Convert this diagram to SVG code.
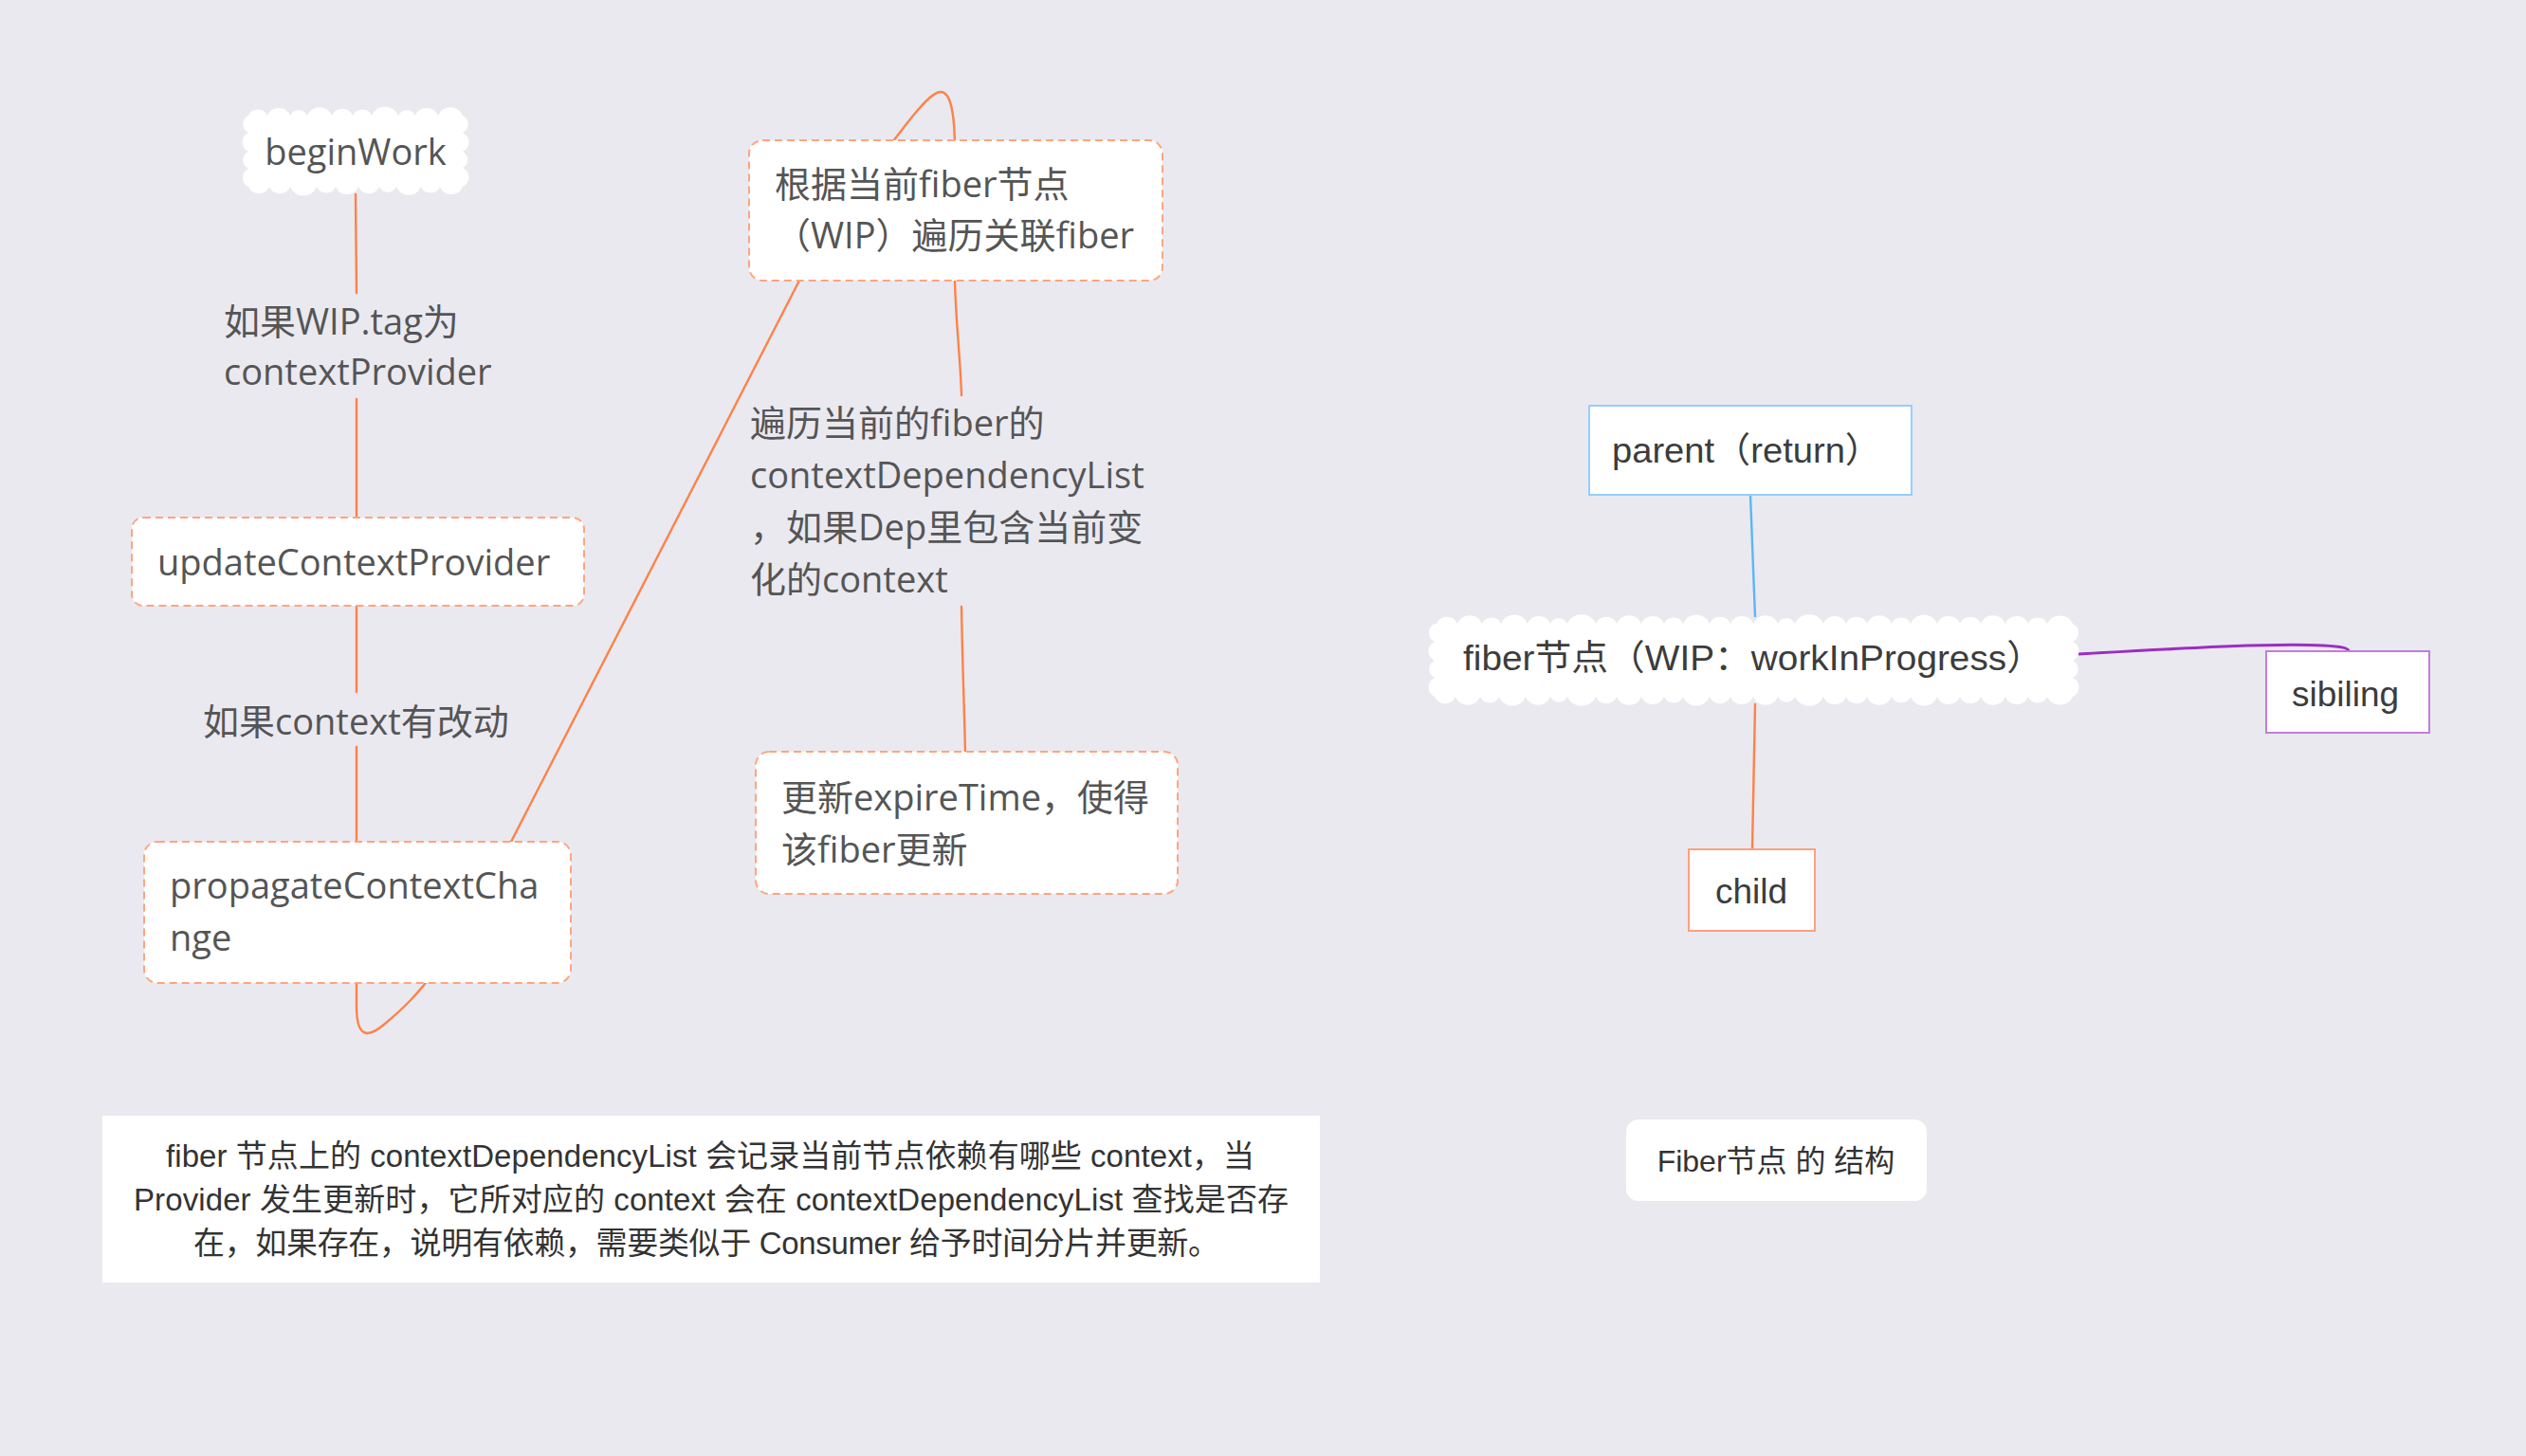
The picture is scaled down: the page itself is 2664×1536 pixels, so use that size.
<svg xmlns="http://www.w3.org/2000/svg" width="2664" height="1536" viewBox="0 0 2664 1536">
<style>
.t{font-family:"Open Sans","Noto Sans CJK SC",sans-serif;font-size:38px;fill:#555555}
.r{font-family:"Liberation Sans","Noto Sans CJK SC",sans-serif;font-size:37px;fill:#3c3c3c}
.n{font-family:"Liberation Sans","Noto Sans CJK SC",sans-serif;font-size:33px;fill:#333333}
.eo{fill:none;stroke:#FF8246;stroke-width:2.4;stroke-linecap:round}
.eb{fill:none;stroke:#5BB6F6;stroke-width:2.4}
.ep{fill:none;stroke:#9B2EC1;stroke-width:3}
.dbox{fill:#FFFFFF;stroke:#FFA47E;stroke-width:2;stroke-dasharray:8 5}
.cloud{fill:#FFFFFF}
</style>
<rect width="2664" height="1536" fill="#EAE9F0"/>
<g id="connectors">
  <path class="eo" d="M375 205 L376 309"/>
  <text class="t" x="236" y="353">如果WIP.tag为</text>
  <text class="t" x="236" y="406">contextProvider</text>
  <path class="eo" d="M376 421 L376 546"/>
  <path class="eo" d="M376 639 L376 730"/>
  <text class="t" x="214" y="775">如果context有改动</text>
  <path class="eo" d="M376 788 L376 888"/>
  <path class="eo" d="M376 1037 L376 1062 C376 1100 392 1092 406 1080 C425 1064 440 1050 462 1020 L539 888 L843 296 C880 232 925 170 955 132 C972 110 984 97 992 97 C1003 97 1007 120 1007 160 L1007 200"/>
  <path class="eo" d="M1007 296 C1008 340 1013 380 1014 417"/>
  <text class="t" x="791" y="460">遍历当前的fiber的</text>
  <text class="t" x="791" y="515">contextDependencyList</text>
  <text class="t" x="791" y="570">，如果Dep里包含当前变</text>
  <text class="t" x="791" y="625">化的context</text>
  <path class="eo" d="M1014 640 C1015 700 1017 750 1018 793"/>
  <path class="eb" d="M1846 522 L1851 651"/>
  <path class="eo" d="M1851 743 L1848 896"/>
  <path class="ep" d="M2192 690 C2300 684 2400 678 2450 681 C2470 682 2477 684 2477 687"/>
</g>
<g id="beginWork">
  <path class="cloud" d="M262 122 a11 11 0 0 1 20 0 a13 13 0 0 1 24 0 a10 10 0 0 1 18 0 a14 14 0 0 1 26 0 a12 12 0 0 1 22 0 a11 11 0 0 1 20 0 a15 15 0 0 1 28 0 a10 10 0 0 1 18 0 a13 13 0 0 1 24 0 a14 14 0 0 1 26 0 a10 10 0 0 1 0 18 a11 11 0 0 1 0 20 a9.5 9.5 0 0 1 0 17 a11 11 0 0 1 0 20 a13 13 0 0 1 -24 0 a11 11 0 0 1 -20 0 a14 14 0 0 1 -26 0 a10 10 0 0 1 -18 0 a12 12 0 0 1 -22 0 a13 13 0 0 1 -24 0 a11 11 0 0 1 -20 0 a15 15 0 0 1 -28 0 a12 12 0 0 1 -22 0 a12 12 0 0 1 -22 0 a10.5 10.5 0 0 1 0 -19 a10 10 0 0 1 0 -18 a11 11 0 0 1 0 -20 a10 10 0 0 1 0 -18 Z"/>
  <text class="t" x="375" y="174" text-anchor="middle">beginWork</text>
</g>
<g id="updateContextProvider">
  <rect class="dbox" x="139" y="546" width="477" height="93" rx="12"/>
  <text class="t" x="166" y="607">updateContextProvider</text>
</g>
<g id="propagateContextChange">
  <rect class="dbox" x="152" y="888" width="450" height="149" rx="14"/>
  <text class="t" x="179" y="948">propagateContextCha</text>
  <text class="t" x="179" y="1003">nge</text>
</g>
<g id="traverseFiber">
  <rect class="dbox" x="790" y="148" width="436" height="148" rx="14"/>
  <text class="t" x="817" y="208">根据当前fiber节点</text>
  <text class="t" x="817" y="262">（WIP）遍历关联fiber</text>
</g>
<g id="updateExpireTime">
  <rect class="dbox" x="797" y="793" width="445" height="150" rx="14"/>
  <text class="t" x="824" y="855">更新expireTime，使得</text>
  <text class="t" x="824" y="910">该fiber更新</text>
</g>
<g id="note">
  <rect x="108" y="1177" width="1284" height="176" fill="#FFFFFF"/>
  <text class="n" x="749" y="1231" text-anchor="middle" textLength="1148">fiber 节点上的 contextDependencyList 会记录当前节点依赖有哪些 context，当</text>
  <text class="n" x="750" y="1277" text-anchor="middle" textLength="1218">Provider 发生更新时，它所对应的 context 会在 contextDependencyList 查找是否存</text>
  <text class="n" x="745" y="1323" text-anchor="middle" textLength="1082">在，如果存在，说明有依赖，需要类似于 Consumer 给予时间分片并更新。</text>
</g>
<g id="parent">
  <rect x="1676" y="428" width="340" height="94" fill="#FFFFFF" stroke="#94CFFB" stroke-width="2"/>
  <text class="r" x="1700" y="488" textLength="284" lengthAdjust="spacingAndGlyphs">parent（return）</text>
</g>
<g id="fiberNode">
  <path class="cloud" d="M1515 658 a12 12 0 0 1 22 0 a14 14 0 0 1 26 0 a11 11 0 0 1 20 0 a15 15 0 0 1 28 0 a13 13 0 0 1 24 0 a10 10 0 0 1 18 0 a16.5 16.5 0 0 1 30 0 a12 12 0 0 1 22 0 a14 14 0 0 1 26 0 a13 13 0 0 1 24 0 a11 11 0 0 1 20 0 a15 15 0 0 1 28 0 a12 12 0 0 1 22 0 a13 13 0 0 1 24 0 a14 14 0 0 1 26 0 a10 10 0 0 1 18 0 a16.5 16.5 0 0 1 30 0 a13 13 0 0 1 24 0 a12 12 0 0 1 22 0 a14 14 0 0 1 26 0 a11 11 0 0 1 20 0 a15 15 0 0 1 28 0 a13 13 0 0 1 24 0 a12 12 0 0 1 22 0 a14 14 0 0 1 26 0 a13 13 0 0 1 24 0 a11 11 0 0 1 20 0 a15 15 0 0 1 27 0 a10.5 10.5 0 0 1 0 19 a11 11 0 0 1 0 20 a10 10 0 0 1 0 18 a11 11 0 0 1 0 20 a15 15 0 0 1 -27 0 a11 11 0 0 1 -20 0 a13 13 0 0 1 -24 0 a14 14 0 0 1 -26 0 a12 12 0 0 1 -22 0 a13 13 0 0 1 -24 0 a15 15 0 0 1 -28 0 a11 11 0 0 1 -20 0 a14 14 0 0 1 -26 0 a12 12 0 0 1 -22 0 a13 13 0 0 1 -24 0 a16.5 16.5 0 0 1 -30 0 a10 10 0 0 1 -18 0 a14 14 0 0 1 -26 0 a13 13 0 0 1 -24 0 a12 12 0 0 1 -22 0 a15 15 0 0 1 -28 0 a11 11 0 0 1 -20 0 a13 13 0 0 1 -24 0 a14 14 0 0 1 -26 0 a12 12 0 0 1 -22 0 a16.5 16.5 0 0 1 -30 0 a10 10 0 0 1 -18 0 a14 14 0 0 1 -26 0 a15 15 0 0 1 -28 0 a11 11 0 0 1 -20 0 a14 14 0 0 1 -26 0 a12 12 0 0 1 -22 0 a11 11 0 0 1 0 -20 a10 10 0 0 1 0 -18 a11 11 0 0 1 0 -20 a10.5 10.5 0 0 1 0 -19 Z"/>
  <text class="r" x="1543" y="707" textLength="612" lengthAdjust="spacingAndGlyphs">fiber节点（WIP：workInProgress）</text>
</g>
<g id="child">
  <rect x="1781" y="896" width="133" height="86" fill="#FFFFFF" stroke="#FFA07C" stroke-width="2"/>
  <text class="r" x="1809" y="953">child</text>
</g>
<g id="sibling">
  <rect x="2390" y="687" width="172" height="86" fill="#FFFFFF" stroke="#C37CE0" stroke-width="2"/>
  <text class="r" x="2417" y="745">sibiling</text>
</g>
<g id="caption">
  <rect x="1715" y="1181" width="317" height="86" rx="13" fill="#FFFFFF"/>
  <text x="1873" y="1236" text-anchor="middle" font-family="Liberation Sans, Noto Sans CJK SC, sans-serif" font-size="32" fill="#333333">Fiber节点 的 结构</text>
</g>
</svg>
